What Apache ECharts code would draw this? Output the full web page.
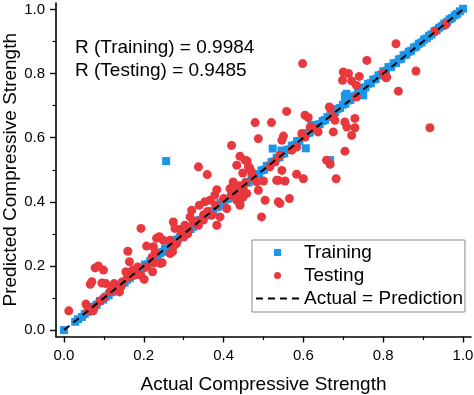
<!DOCTYPE html>
<html>
<head>
<meta charset="utf-8">
<script src="https://cdn.jsdelivr.net/npm/echarts@6/dist/echarts.min.js"></script>
<style>html,body{margin:0;padding:0;background:#fff}#c{width:474px;height:395px}</style>
</head>
<body>
<div id="c"></div>
<script>
const majorTicks = [0, 0.2, 0.4, 0.6, 0.8, 1.0];
const minorTicks = [0.1, 0.3, 0.5, 0.7, 0.9];
const xTitle = 'Actual Compressive Strength';
const yTitle = 'Predicted Compressive Strength';
const seriesNames = ['Training', 'Testing', 'Actual = Prediction'];
const rTexts = ['R (Training) = 0.9984', 'R (Testing) = 0.9485'];

const training = [
[0,0],[0.028,0.026],[0.035,0.034],[0.045,0.041],[0.052,0.05],[0.06,0.057],[0.068,0.066],[0.075,0.073],[0.082,0.079],[0.09,0.091],
[0.098,0.095],[0.105,0.104],[0.112,0.109],[0.12,0.118],[0.127,0.124],[0.133,0.135],[0.14,0.136],[0.146,0.147],[0.152,0.148],[0.158,0.157],
[0.165,0.162],[0.171,0.172],[0.178,0.172],[0.184,0.184],[0.19,0.186],[0.197,0.193],[0.203,0.204],[0.21,0.205],[0.216,0.214],[0.222,0.216],
[0.228,0.229],[0.235,0.231],[0.241,0.24],[0.247,0.244],[0.253,0.254],[0.26,0.255],[0.266,0.266],[0.272,0.268],[0.279,0.28],[0.285,0.283],
[0.291,0.29],[0.298,0.297],[0.304,0.302],[0.31,0.312],[0.317,0.315],[0.323,0.322],[0.33,0.332],[0.336,0.333],[0.342,0.344],[0.349,0.346],
[0.355,0.357],[0.362,0.359],[0.368,0.37],[0.374,0.371],[0.381,0.383],[0.387,0.385],[0.393,0.396],[0.4,0.397],[0.406,0.408],[0.412,0.41],
[0.419,0.421],[0.425,0.422],[0.431,0.434],[0.438,0.436],[0.444,0.447],[0.45,0.448],[0.457,0.46],[0.463,0.461],[0.47,0.473],[0.476,0.474],
[0.482,0.486],[0.489,0.487],[0.495,0.498],[0.501,0.5],[0.508,0.512],[0.514,0.513],[0.52,0.524],[0.527,0.526],[0.533,0.537],[0.54,0.539],
[0.546,0.549],[0.552,0.551],[0.559,0.562],[0.565,0.564],[0.571,0.575],[0.578,0.577],[0.584,0.589],[0.59,0.59],[0.597,0.602],[0.603,0.603],
[0.61,0.614],[0.616,0.616],[0.622,0.627],[0.629,0.629],[0.635,0.64],[0.641,0.642],[0.648,0.652],[0.654,0.655],[0.66,0.664],[0.667,0.667],
[0.673,0.676],[0.68,0.68],[0.686,0.69],[0.692,0.693],[0.699,0.703],[0.705,0.706],[0.711,0.716],[0.718,0.718],[0.724,0.728],[0.73,0.731],
[0.737,0.741],[0.743,0.744],[0.75,0.755],[0.756,0.757],[0.762,0.768],[0.769,0.77],[0.775,0.781],[0.781,0.783],[0.788,0.794],[0.794,0.796],
[0.8,0.807],[0.807,0.808],[0.813,0.82],[0.82,0.821],[0.826,0.832],[0.832,0.833],[0.839,0.844],[0.845,0.846],[0.851,0.857],[0.858,0.859],
[0.864,0.868],[0.87,0.871],[0.877,0.881],[0.883,0.884],[0.889,0.893],[0.896,0.897],[0.902,0.906],[0.909,0.91],[0.915,0.918],[0.921,0.922],
[0.928,0.931],[0.934,0.935],[0.94,0.943],[0.947,0.948],[0.953,0.956],[0.96,0.961],[0.966,0.969],[0.972,0.973],[0.979,0.981],[0.985,0.986],
[0.992,0.994],[1.0,1.002],
[0.256,0.527],[0.523,0.566],[0.606,0.567],[0.667,0.530],[0.708,0.737],[0.750,0.732],[0.704,0.730],[0.62,0.64],[0.545,0.56]
];

const testing = [
[0.012,0.060],[0.193,0.317],[0.078,0.194],[0.086,0.200],[0.099,0.187],[0.070,0.151],[0.066,0.143],[0.095,0.147],
[0.160,0.246],[0.164,0.213],[0.207,0.262],[0.229,0.242],[0.239,0.291],[0.249,0.280],[0.272,0.244],[0.274,0.337],[0.291,0.314],
[0.055,0.081],[0.076,0.071],[0.073,0.060],[0.105,0.145],[0.126,0.145],[0.122,0.130],[0.143,0.135],[0.139,0.119],[0.147,0.151],
[0.155,0.182],[0.172,0.187],[0.176,0.171],[0.185,0.197],[0.193,0.171],[0.201,0.158],[0.206,0.197],[0.222,0.182],[0.226,0.210],[0.246,0.210],
[0.337,0.509],[0.359,0.485],[0.441,0.542],[0.433,0.514],[0.448,0.490],[0.459,0.527],[0.466,0.504],[0.474,0.478],[0.483,0.462],[0.487,0.436],
[0.504,0.405],[0.495,0.353],[0.537,0.400],[0.533,0.467],[0.424,0.462],[0.416,0.441],[0.383,0.438],[0.378,0.421],[0.366,0.405],[0.353,0.400],
[0.339,0.389],[0.320,0.374],[0.316,0.353],[0.324,0.337],[0.337,0.327],[0.349,0.343],[0.370,0.358],[0.391,0.353],[0.383,0.327],[0.408,0.379],
[0.433,0.405],[0.441,0.389],[0.420,0.421],[0.449,0.436],[0.458,0.426],[0.278,0.317],[0.295,0.304],[0.303,0.327],[0.312,0.312],[0.232,0.286],
[0.266,0.280],[0.274,0.260],[0.282,0.270],[0.224,0.260],[0.221,0.228],[0.241,0.208],[0.266,0.239],
[0.558,0.682],[0.479,0.647],[0.520,0.647],[0.487,0.597],[0.550,0.605],[0.546,0.592],[0.604,0.670],[0.612,0.663],[0.665,0.696],[0.704,0.649],
[0.709,0.633],[0.721,0.607],[0.675,0.618],[0.704,0.558],[0.617,0.633],[0.633,0.625],[0.637,0.618],[0.596,0.613],[0.604,0.602],[0.571,0.561],
[0.583,0.571],[0.420,0.576],[0.454,0.530],[0.462,0.511],[0.470,0.493],[0.500,0.465],[0.516,0.509],[0.529,0.524],[0.541,0.545],[0.546,0.498],
[0.537,0.467],[0.554,0.465],[0.583,0.486],[0.600,0.472],[0.658,0.530],[0.667,0.517],[0.682,0.472],[0.541,0.395],[0.565,0.410],[0.424,0.452],
[0.429,0.426],[0.441,0.395],[0.449,0.415],
[0.832,0.893],[0.759,0.841],[0.882,0.808],[0.838,0.745],[0.917,0.631],[0.700,0.805],[0.713,0.800],[0.740,0.791],[0.698,0.779],[0.721,0.777],
[0.733,0.763],[0.809,0.789],[0.733,0.727],[0.667,0.691],[0.675,0.665],[0.679,0.654],[0.729,0.660],[0.729,0.631],[0.629,0.628],
[0.930,0.932],[0.957,0.953],[0.807,0.787],[0.800,0.800],[0.598,0.831],
[0.30,0.29],[0.33,0.34],[0.35,0.36],[0.38,0.39],[0.40,0.41],[0.36,0.37],[0.31,0.30],[0.44,0.45],[0.455,0.46],
[0.115,0.12],[0.13,0.125],[0.16,0.165],[0.18,0.185],[0.10,0.10],[0.09,0.09],[0.06,0.062]
];

const diagonal = [[0, 0], [1, 1]];

const FONT = '"Liberation Sans", Arial, sans-serif';
const chart = echarts.init(document.getElementById('c'));

function mainAxis(name, isX) {
  return {
    type: 'value', min: -0.02, max: 1.02,
    name: name, nameLocation: 'middle', nameGap: isX ? 39 : 36, nameMoveOverlap: false,
    nameTextStyle: { fontSize: 19, color: '#000', fontFamily: FONT },
    axisLine: { show: true, onZero: false, lineStyle: { color: '#000', width: 1.6 } },
    axisTick: { show: true, inside: false, length: 6, customValues: majorTicks, lineStyle: { color: '#000', width: 1.4 } },
    axisLabel: { show: true, customValues: majorTicks, margin: isX ? 12 : 11, fontSize: 15, color: '#000', fontFamily: FONT,
      formatter: v => v.toFixed(1) },
    splitLine: { show: false }
  };
}
function minorAxis(isX) {
  return {
    type: 'value', min: -0.02, max: 1.02, position: isX ? 'bottom' : 'left',
    axisLine: { show: false, onZero: false },
    axisTick: { show: true, inside: false, length: 3.5, customValues: minorTicks, lineStyle: { color: '#000', width: 1.2 } },
    axisLabel: { show: false },
    splitLine: { show: false }
  };
}

chart.setOption({
  animation: false,
  grid: { left: 56, right: 3, top: 3, bottom: 58.5, containLabel: false, outerBoundsMode: 'none' },
  xAxis: [mainAxis(xTitle, true), minorAxis(true)],
  yAxis: [mainAxis(yTitle, false), minorAxis(false)],
  legend: {
    orient: 'vertical', left: 252, top: 240,
    padding: [1, 2, 2, 3], itemGap: 0, itemWidth: 43, itemHeight: 7,
    borderColor: '#8a8a8a', borderWidth: 1, symbolKeepAspect: true,
    textStyle: { fontSize: 19, lineHeight: 23, color: '#000', fontFamily: FONT },
    data: [
      { name: seriesNames[0], icon: 'path://M0,0L10,0L10,10L0,10Z', itemStyle: { color: '#1c96e8' } },
      { name: seriesNames[1], icon: 'circle' },
      { name: seriesNames[2], itemStyle: { color: 'rgba(0,0,0,0)', borderWidth: 0, opacity: 0 } }
    ]
  },
  graphic: [
    { type: 'text', left: 75, top: 38, style: { text: rTexts[0], font: '19px ' + FONT, fill: '#000' } },
    { type: 'text', left: 75, top: 61, style: { text: rTexts[1], font: '19px ' + FONT, fill: '#000' } }
  ],
  series: [
    { name: seriesNames[0], type: 'scatter', data: training, symbol: 'rect', symbolSize: 8,
      itemStyle: { color: '#1c96e8', opacity: 1 }, z: 2 },
    { name: seriesNames[1], type: 'scatter', data: testing, symbol: 'circle', symbolSize: 9,
      itemStyle: { color: '#e8383d', opacity: 1 }, z: 3 },
    { name: seriesNames[2], type: 'line', data: diagonal, symbol: 'none', silent: true,
      lineStyle: { color: '#000', width: 2, type: [7, 5] }, itemStyle: { color: '#000' }, z: 4 }
  ]
});
</script>
</body>
</html>
